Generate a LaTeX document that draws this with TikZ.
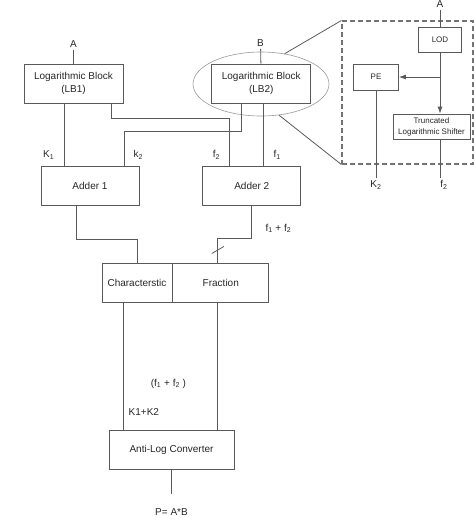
\documentclass[tikz,border=0pt]{standalone}
\usepackage{fontspec}
\setmainfont{Liberation Sans}
\usetikzlibrary{positioning,shapes.geometric,arrows.meta}

\begin{document}
\begin{tikzpicture}[x=1pt, y=-1pt, line width=0.8pt, color=black!65, text=black!85,
    font=\fontsize{10}{13}\selectfont,
    block/.style={draw, minimum height=39pt, inner sep=0pt, align=center},
    smallblock/.style={draw, inner sep=0pt, align=center, font=\fontsize{8}{11}\selectfont},
    sig/.style={inner sep=2pt}]
\useasboundingbox (0,0) rectangle (474,517);

\node [block, minimum width=99pt] (lbA) at (73.5,83.5) {Logarithmic Block\\(LB1)};
\node [block, minimum width=99pt, right=88pt of lbA] (lbB) {Logarithmic Block\\(LB2)};
\node [sig] (inA) at (73.5,44) {A};
\node [sig] (inB) at (260.5,43) {B};
\node [block, minimum width=98pt] (add1) at (90,185.5) {Adder 1};
\node [block, minimum width=98pt, right=63pt of add1] (add2) {Adder 2};
\node [block, minimum width=70pt] (char) at (137,282.5) {Characterstic};
\node [block, minimum width=96pt, right=0pt of char] (frac) {Fraction};
\node [block, minimum width=125pt] (alog) at (171.5,449.5) {Anti-Log Converter};
\node [sig] (outP) at (171.5,512) {P= A*B};

% zoomed view of LB2
\node [ellipse, draw=black!40, line width=0.6pt, minimum width=136pt, minimum height=64pt, inner sep=0pt] (zoomEll) at (261,84) {};
\node [draw=black!55, dash pattern=on 5pt off 3pt, line width=1.1pt, minimum width=131pt, minimum height=143pt, inner sep=0pt] (zoomBox) at (407.5,92.5) {};
\node [smallblock, minimum width=43pt, minimum height=25pt] (lod) at (440,39.5) {LOD};
\node [smallblock, minimum width=45pt, minimum height=26pt] (pe) at (376,77) {PE};
\node [smallblock, minimum width=77pt, minimum height=25pt] (trunc) at (431.5,126.5) {Truncated\\Logarithmic Shifter};
\node [sig] (inA2) at (440,4) {A};
\node [sig] (outK) at (376,185) {K\textsubscript{2}};
\node [sig] (outF) at (444,185) {f\textsubscript{2}};

\draw (inA) -- (lbA);
\draw (inB) -- (lbB);
\draw ([xshift=-9.5pt]lbA.south) -- ([xshift=-9.5pt]lbA.south |- add1.north) node[pos=0.83, left=6pt] (k1lbl) {K\textsubscript{1}};
\draw ([xshift=37.5pt]lbA.south) -- ++(0,15) -| ([xshift=-22pt]add2.north) node[pos=0.885, left=6pt] (f2lbl) {f\textsubscript{2}};
\draw ([xshift=-19.5pt]lbB.south) -- ++(0,28) -| ([xshift=34pt]add1.north) node[pos=0.84, right=6pt] (k2lbl) {k\textsubscript{2}};
\draw ([xshift=2.5pt]lbB.south) -- ([xshift=2.5pt]lbB.south |- add2.north) node[pos=0.83, right=6pt] (f1lbl) {f\textsubscript{1}};

\draw ([xshift=-14pt]add1.south) -- ++(0,34) -| (char.north);
\draw (add2.south) -- ++(0,33) node[pos=0.7, right=10pt] (sumlbl) {f\textsubscript{1} + f\textsubscript{2}} -| ([xshift=-3pt]frac.north) coordinate[pos=0.74] (busMark);
\draw ([shift={(-6,3.5)}]busMark) -- ([shift={(6,-3.5)}]busMark);

\draw ([xshift=-14pt]char.south) -- ([xshift=-14pt]char.south |- alog.north) node[pos=0.86, right=2pt] (kslbl) {K1+K2};
\draw ([xshift=-3pt]frac.south) -- ([xshift=-3pt]frac.south |- alog.north) node[pos=0.64, left=28pt] (fslbl) {(f\textsubscript{1} + f\textsubscript{2}\ )};
\draw [shorten >=12pt] (alog) -- (outP);

\draw (zoomEll.52) -- (zoomBox.north west);
\draw (zoomEll.-60) -- (zoomBox.south west);
\draw (inA2) -- (lod);
\draw [-{Latex[length=7pt,width=5pt]}] (lod) -- (lod |- trunc.north);
\draw [-{Latex[length=7pt,width=5pt]}] (lod.south |- pe.east) -- (pe);
\draw (pe) -- (outK);
\draw (lod.south |- trunc.south) -- (lod.south |- outF.north);
\end{tikzpicture}
\end{document}
